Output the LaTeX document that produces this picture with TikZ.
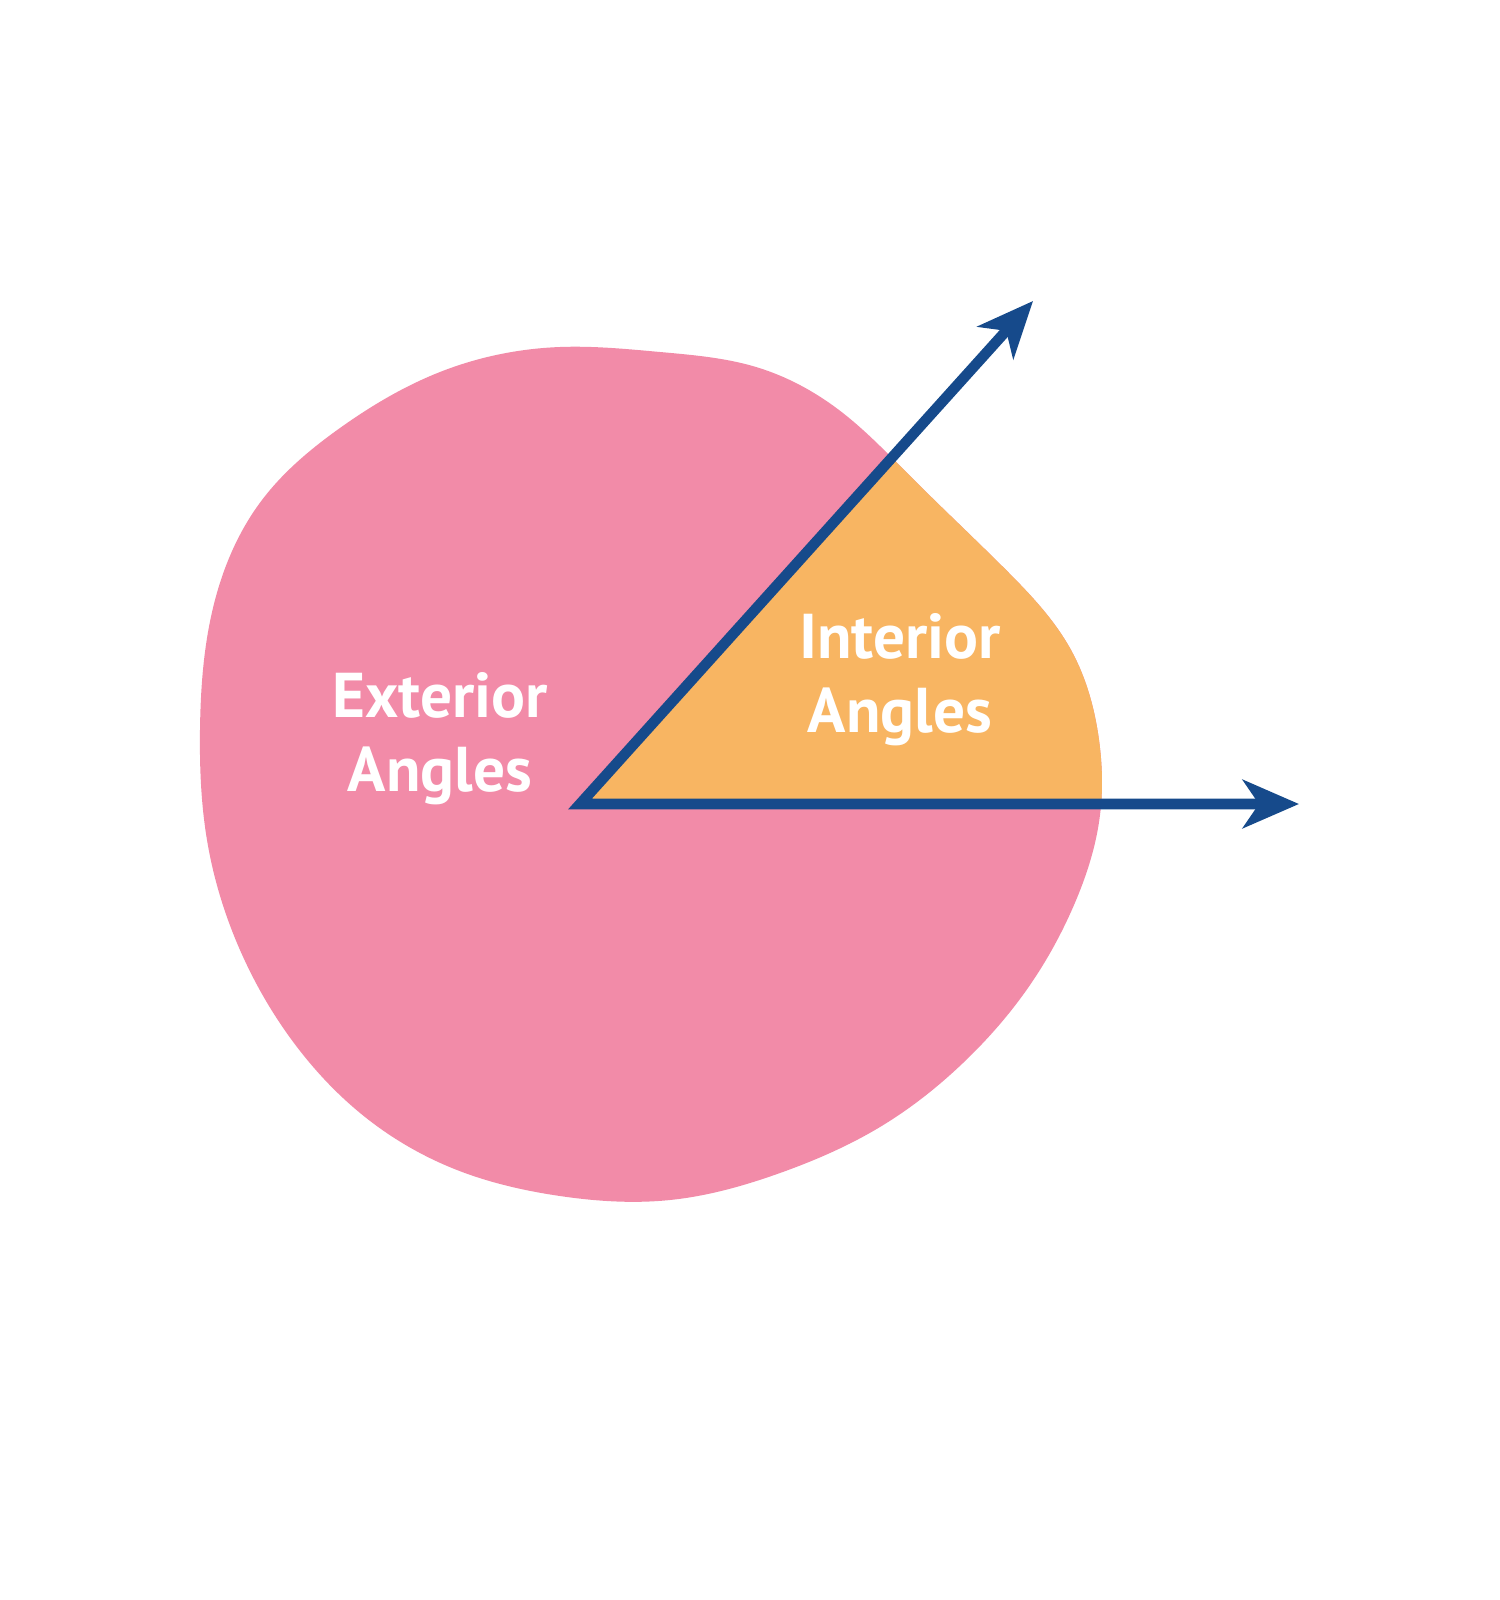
\documentclass[tikz,border=0pt]{standalone}
\usepackage{fontspec}
\usepackage{tikz}
\usetikzlibrary{arrows.meta,calc,hobby}
\newfontfamily\anglefont{PT Sans}
\definecolor{blobpink}{RGB}{242,139,168}
\definecolor{blobgold}{RGB}{248,181,98}
\definecolor{raynavy}{RGB}{22,74,139}
\tikzset{angle label/.style={text=white,font=\anglefont\bfseries\fontsize{18}{21}\selectfont,align=center},
}

\begin{document}
\begin{tikzpicture}[x=0.01cm,y=-0.01cm,>={Stealth[length=5.6mm,width=4.8mm,inset=1.6mm]},
		ray/.style={draw=raynavy,line width=3pt,miter limit=20}]
		\useasboundingbox[fill=white] (0,0) rectangle (1500,1600);
		
		\coordinate (vertex) at (580,804);
		\coordinate (uptip) at (1033,301);
		\coordinate (righttip) at (1299,804);
		
		\def\blob{[use Hobby shortcut,closed=true]
			(560,347) .. (660,352) .. (756,367) .. (839,410) .. (910,476) .. (1006,570)
			.. (1071,650) .. (1099,740) .. (1100,815) .. (1074,905) .. (1030,985)
			.. (963,1063) .. (880,1127) .. (780,1173) .. (670,1200) .. (560,1196)
			.. (457,1170) .. (365,1117) .. (297,1047) .. (240,950) .. (207,840)
			.. (200,730) .. (215,600) .. (262,500) .. (340,428) .. (440,372)}
		
		\fill[blobpink] \blob;
		\begin{scope}
			\clip (vertex) -- ($(vertex)!1.5!(uptip)$) -- (1500,0) -- (1500,804) -- cycle;
			\fill[blobgold] \blob;
		\end{scope}
		
		\node[angle label] (exterior) at (440,739) {Exterior\\Angles};
		\node[angle label] (interior) at (900,680) {Interior\\Angles};
		
		\path[ray,<->] (uptip) -- (vertex) -- (righttip);
\end{tikzpicture}
\end{document}
